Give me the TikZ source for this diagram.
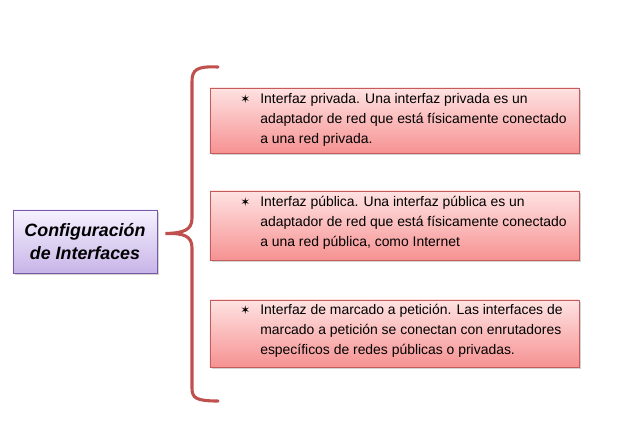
\documentclass[tikz,border=0pt]{standalone}
\usepackage{fontspec}
\setmainfont{Liberation Sans}
\newfontfamily\symfont{DejaVu Sans}
\usetikzlibrary{positioning}
\usetikzlibrary{shadows}
\usetikzlibrary{calc}

\definecolor{lilafill}{RGB}{246,242,255}
\definecolor{lilabot}{RGB}{200,180,232}
\definecolor{lilaline}{RGB}{118,90,168}
\definecolor{rojofill}{RGB}{255,226,226}
\definecolor{rojobot}{RGB}{246,146,146}
\definecolor{rojoline}{RGB}{196,92,92}
\definecolor{llave}{RGB}{192,80,77}

\tikzset{
  tema/.style={draw=lilaline, line width=0.6pt, top color=lilafill, bottom color=lilabot,
    drop shadow={opacity=0.35, shadow xshift=1.2pt, shadow yshift=-1.2pt},
    minimum width=3.6cm, minimum height=1.575cm, align=center,
    font=\fontsize{12.7}{16.4}\selectfont\bfseries\itshape},
  caja/.style={draw=rojoline, line width=0.6pt, top color=rojofill, bottom color=rojobot,
    drop shadow={opacity=0.35, shadow xshift=1.2pt, shadow yshift=-1.2pt},
    minimum width=9.225cm},
  texto/.style={anchor=west, align=left, inner sep=0pt,
    font=\fontsize{9.9}{14.2}\selectfont},
}
\newcommand{\vineta}{\llap{{\symfont\fontsize{8.5}{8.5}\selectfont ✶}\hspace{7pt}}}

\begin{document}
\begin{tikzpicture}[x=0.025cm, y=-0.025cm]
  \useasboundingbox (0,0) rectangle (640,429);

  % Define the boxes
  \node[tema] (config) at (85,241.5) {Configuración\\de Interfaces};
  \node[caja, minimum height=1.625cm] (privada) at (394.5,120.5) {};
  \node[caja, minimum height=1.725cm] (publica) at (394.5,225.5) {};
  \node[caja, minimum height=1.675cm] (marcado) at (394.5,333.5) {};

  % Texts of the boxes
  \node[texto] (tprivada) at (260,120) {\vineta Interfaz privada. Una interfaz privada es un\\
    adaptador de red que está físicamente conectado\\a una red privada.};
  \node[texto] (tpublica) at (260,223) {\vineta Interfaz pública. Una interfaz pública es un\\
    adaptador de red que está físicamente conectado\\a una red pública, como Internet};
  \node[texto] (tmarcado) at (260,331) {\vineta Interfaz de marcado a petición. Las interfaces de\\
    marcado a petición se conectan con enrutadores\\específicos de redes públicas o privadas.};

  % Define the coordinates of the brace
  \coordinate (arriba) at (218,67);
  \coordinate (punta) at ($(config.east)+(8,-8)$);
  \coordinate (abajo) at (218,401);

  % Draw the brace
  \draw[llave, line width=2.2pt, line cap=round]
    (arriba) .. controls (196,66) and (192,70) .. (192,82) -- (192,218)
    .. controls (192,230) and (184,233) .. (punta)
    .. controls (184,233) and (192,236) .. (192,248) -- (192,388)
    .. controls (192,398) and (196,401) .. (abajo);
\end{tikzpicture}
\end{document}
